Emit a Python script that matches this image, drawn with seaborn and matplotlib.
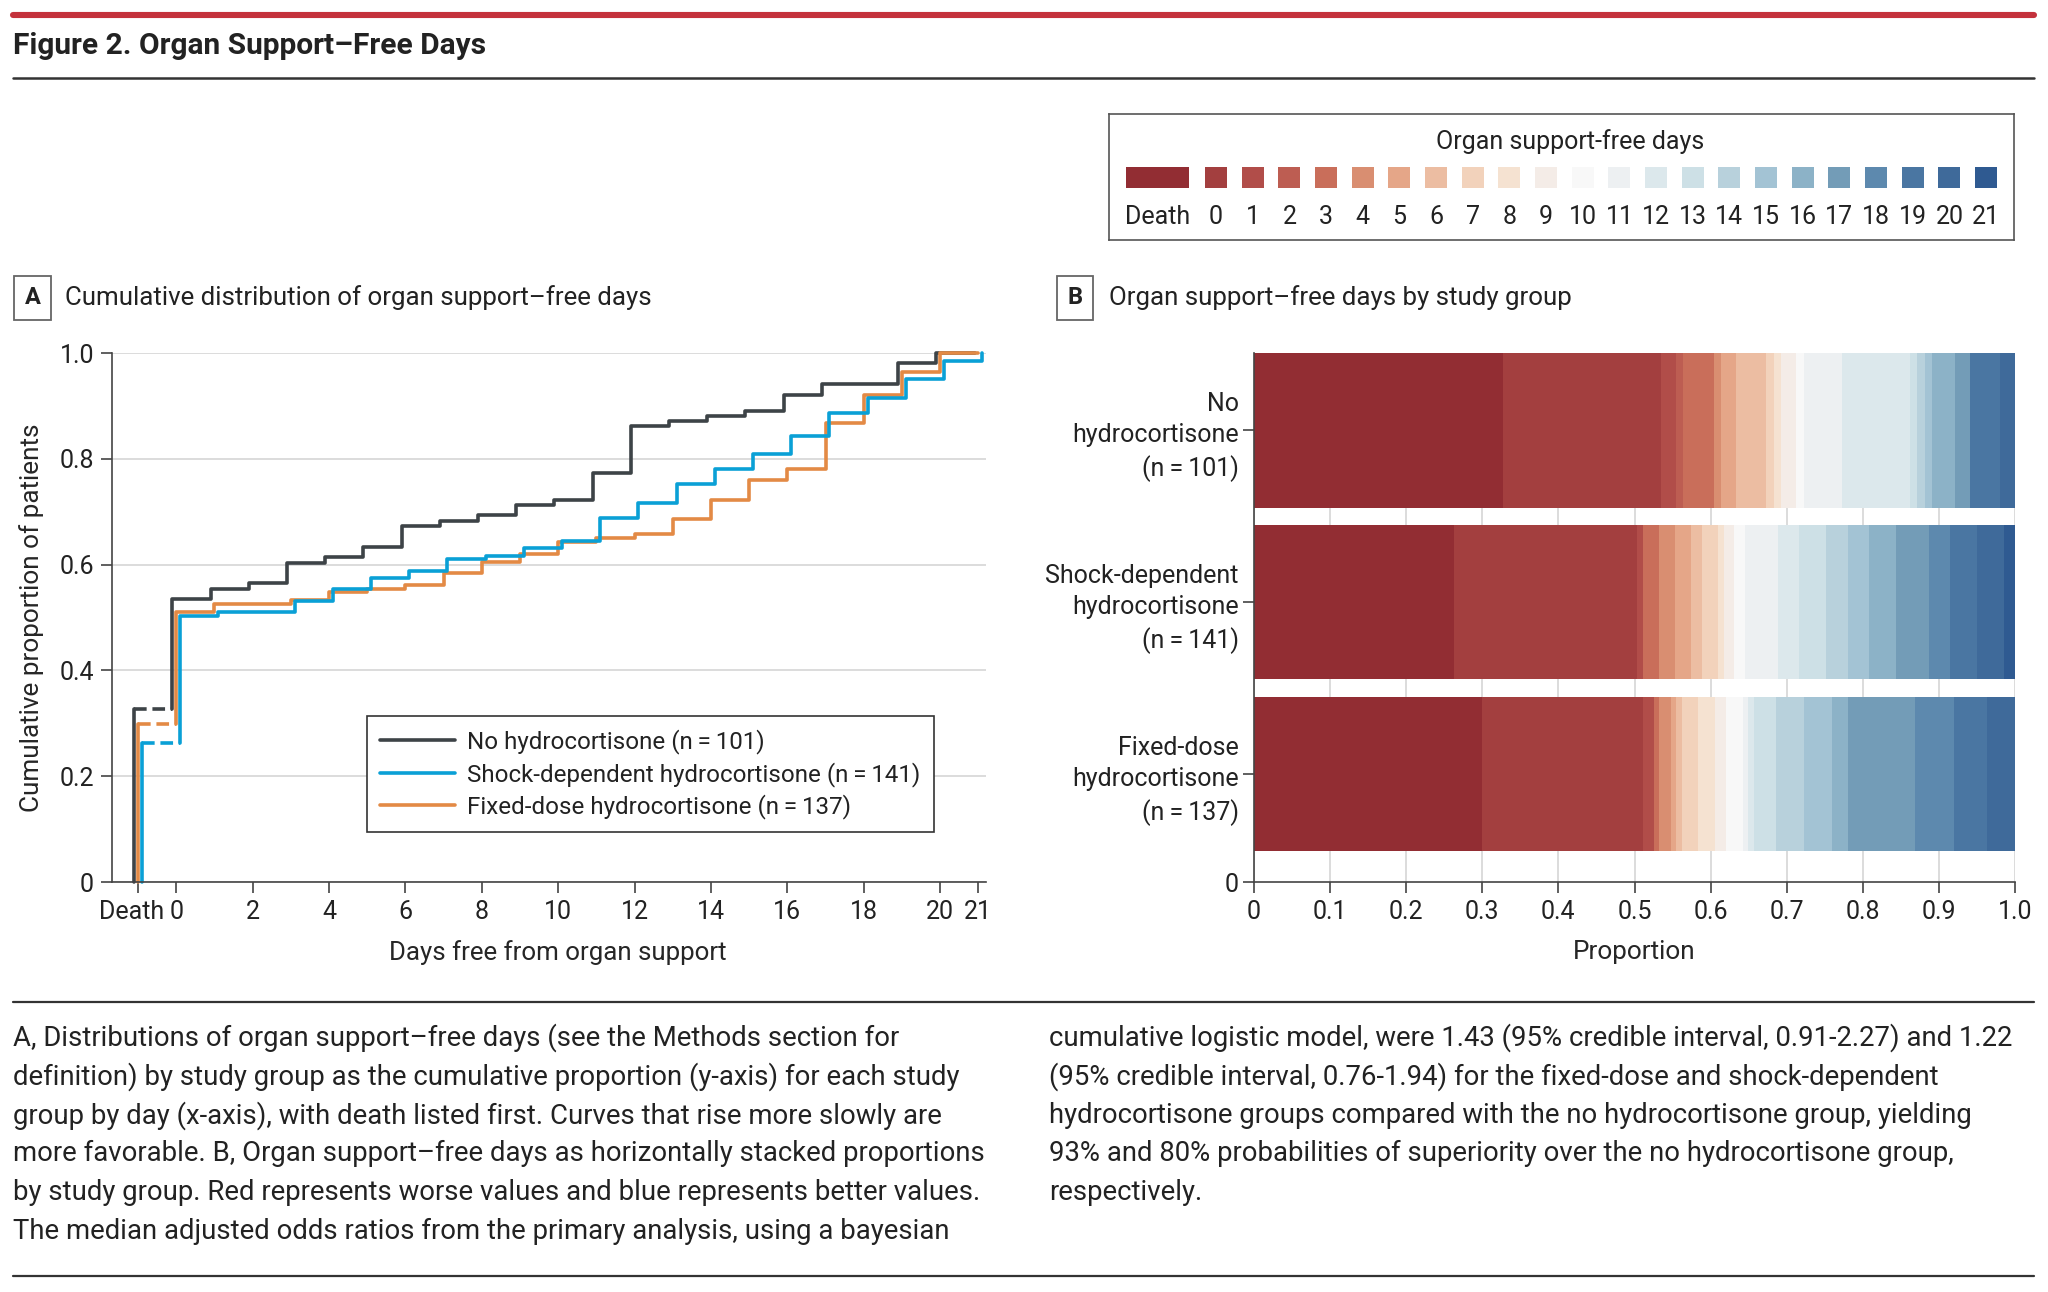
import numpy as np
import pandas as pd
import seaborn as sns
import matplotlib.pyplot as plt
from matplotlib.lines import Line2D
from matplotlib.transforms import ScaledTranslation

# ---- data ----
categories = ["Death"] + [str(d) for d in range(22)]
groups = ["No hydrocortisone", "Shock-dependent hydrocortisone", "Fixed-dose hydrocortisone"]
group_n = [101, 141, 137]
# patients per outcome category (Death, day 0 ... day 21)
counts_none = [33, 21, 2, 1, 4, 1, 2, 4, 1, 1, 2, 1, 5, 9, 1, 1, 1, 3, 2, 0, 4, 2, 0]
counts_shock = [37, 34, 1, 0, 3, 3, 3, 2, 3, 1, 2, 2, 6, 4, 5, 4, 4, 5, 6, 4, 5, 5, 2]
counts_fixed = [41, 29, 2, 0, 1, 2, 1, 1, 3, 3, 2, 3, 1, 1, 4, 5, 5, 3, 12, 7, 6, 5, 0]

bar_labels = ["No\nhydrocortisone\n(n\u2009=\u2009101)",
              "Shock-dependent\nhydrocortisone\n(n\u2009=\u2009141)",
              "Fixed-dose\nhydrocortisone\n(n\u2009=\u2009137)"]
legend_labels = ["No hydrocortisone (n\u2009=\u2009101)",
                 "Shock-dependent hydrocortisone (n\u2009=\u2009141)",
                 "Fixed-dose hydrocortisone (n\u2009=\u2009137)"]
xtick_pos = [-1] + list(range(0, 21, 2)) + [21]
xtick_labels = ["Death"] + [str(d) for d in range(0, 21, 2)] + ["21"]

line_colors = ["#3d4347", "#0aa0d6", "#e38a45"]
x_offsets = [-0.1, 0.1, 0.0]
category_colors = ["#922d33", "#a33f3f", "#b14d49", "#bd5d52", "#c96e5a", "#d98e71",
                   "#e5a688", "#ecbda2", "#f2d2bb", "#f5e2d1", "#f4ece7", "#f8f8f8",
                   "#edf0f2", "#dce8ec", "#cde0e6", "#b8d1dc", "#a3c3d4", "#8cb2c7",
                   "#739cb7", "#5d89ae", "#4a76a2", "#3f6a9a", "#2f5a91"]

caption_left = [
    "A, Distributions of organ support\u2013free days (see the Methods section for",
    "definition) by study group as the cumulative proportion (y-axis) for each study",
    "group by day (x-axis), with death listed first. Curves that rise more slowly are",
    "more favorable. B, Organ support\u2013free days as horizontally stacked proportions",
    "by study group. Red represents worse values and blue represents better values.",
    "The median adjusted odds ratios from the primary analysis, using a bayesian",
]
caption_right = [
    "cumulative logistic model, were 1.43 (95% credible interval, 0.91-2.27) and 1.22",
    "(95% credible interval, 0.76-1.94) for the fixed-dose and shock-dependent",
    "hydrocortisone groups compared with the no hydrocortisone group, yielding",
    "93% and 80% probabilities of superiority over the no hydrocortisone group,",
    "respectively.",
]

W, H = 2048, 1292


def fx(px):
    return px / W


def fy(py):
    return 1 - py / H


sns.set_style("ticks")
plt.rcParams["font.family"] = ["Roboto", "DejaVu Sans"]
plt.rcParams["text.color"] = "#222222"
plt.rcParams["axes.edgecolor"] = "#444444"
plt.rcParams["xtick.color"] = "#444444"
plt.rcParams["ytick.color"] = "#444444"
plt.rcParams["xtick.labelcolor"] = "#222222"
plt.rcParams["ytick.labelcolor"] = "#222222"

counts = [counts_none, counts_shock, counts_fixed]
cum = [np.cumsum(c) / n for c, n in zip(counts, group_n)]

fig = plt.figure(figsize=(20.48, 12.92), dpi=100)

# ---- header ----
fig.add_artist(Line2D([fx(13), fx(2034)], [fy(14.5), fy(14.5)], color="#c4323c", lw=4.4))
fig.text(fx(13), fy(46), "Figure 2. Organ Support\u2013Free Days", fontsize=21.5,
         fontweight="bold", va="center", ha="left")
fig.add_artist(Line2D([fx(13), fx(2034)], [fy(78), fy(78)], color="#333333", lw=1.8))
fig.add_artist(Line2D([fx(13), fx(2034)], [fy(1002), fy(1002)], color="#333333", lw=1.6))
fig.add_artist(Line2D([fx(13), fx(2034)], [fy(1276), fy(1276)], color="#333333", lw=1.6))

# ---- colour key ----
axK = fig.add_axes([fx(1109), fy(240), fx(2014) - fx(1109), fy(114) - fy(240)])
axK.set_xlim(-2.92, 21.76)
axK.set_ylim(240, 114)
key_x = [-1.6] + list(range(22))
key_w = [1.72] + [0.6] * 22
axK.bar(key_x, 21, bottom=167, width=key_w, color=category_colors, linewidth=0)
for x, lab in zip(key_x, categories):
    axK.text(x, 217, lab, ha="center", va="center", fontsize=18)
axK.text(9.65, 142, "Organ support-free days", ha="center", va="center", fontsize=18)
axK.set_xticks([])
axK.set_yticks([])
for s in axK.spines.values():
    s.set_visible(True)
    s.set_color("#555555")
    s.set_linewidth(1.2)

# ---- panel labels ----
box = dict(boxstyle="square,pad=0.45", fc="white", ec="#666666", lw=1.3)
fig.text(fx(32.5), fy(298), "A", fontsize=17, fontweight="bold", ha="center", va="center", bbox=box)
fig.text(fx(65), fy(298), "Cumulative distribution of organ support\u2013free days",
         fontsize=18.6, ha="left", va="center")
fig.text(fx(1075), fy(298), "B", fontsize=17, fontweight="bold", ha="center", va="center", bbox=box)
fig.text(fx(1109), fy(298), "Organ support\u2013free days by study group",
         fontsize=18.6, ha="left", va="center")

# ---- panel A: cumulative step curves ----
axA = fig.add_axes([fx(112), fy(882), fx(986) - fx(112), fy(353) - fy(882)])
for i in [0, 2, 1]:
    off = x_offsets[i]
    p = cum[i]
    kw = dict(color=line_colors[i], lw=2.6, ax=axA, estimator=None, sort=False,
              clip_on=False, legend=False)
    sns.lineplot(x=[-1 + off, -1 + off], y=[0, p[0]], **kw)
    sns.lineplot(x=[-1 + off, off], y=[p[0], p[0]], linestyle=(0, (3.5, 1.6)), **kw)
    xs = [off] + [d + off for d in range(22)]
    ys = [p[0]] + list(p[1:])
    sns.lineplot(x=xs, y=ys, drawstyle="steps-post", **kw)

axA.set_xlim(-1.68, 21.2)
axA.set_ylim(0, 1)
axA.set_xticks(xtick_pos)
axA.set_xticklabels(xtick_labels)
axA.set_yticks([0, 0.2, 0.4, 0.6, 0.8, 1.0])
axA.set_yticklabels(["0", "0.2", "0.4", "0.6", "0.8", "1.0"])
axA.yaxis.grid(True, color="#d6d6d6", lw=1.2)
axA.set_axisbelow(True)
axA.tick_params(labelsize=18, length=8, width=1.2, pad=5)
death_lab = axA.get_xticklabels()[0]
death_lab.set_transform(death_lab.get_transform() + ScaledTranslation(-0.06, 0, fig.dpi_scale_trans))
sns.despine(ax=axA)
for s in ["left", "bottom"]:
    axA.spines[s].set_linewidth(1.2)
axA.set_xlabel("Days free from organ support", fontsize=18.6)
axA.set_ylabel("Cumulative proportion of patients", fontsize=18.8)
axA.xaxis.set_label_coords(0.51, -0.11)
axA.yaxis.set_label_coords(-0.078, 0.5)

handles = [Line2D([], [], color=c, lw=2.6) for c in line_colors]
leg = axA.legend(handles, legend_labels, loc="lower left", bbox_to_anchor=(0.292, 0.0945),
                 borderaxespad=0, fontsize=17.4, frameon=True, fancybox=False,
                 handlelength=3.1, handletextpad=0.5, labelspacing=0.3,
                 borderpad=0.55, framealpha=1)
leg.get_frame().set_edgecolor("#333333")
leg.get_frame().set_linewidth(1.2)

# ---- panel B: stacked proportions ----
axB = fig.add_axes([fx(1254), fy(882), fx(2015) - fx(1254), fy(353) - fy(882)])
rows = []
for g, c_arr in zip(groups, cum):
    for k, cat in enumerate(categories):
        rows.append({"group": g, "k": k, "cum": c_arr[k]})
df = pd.DataFrame(rows)
for k in range(len(categories) - 1, -1, -1):
    sub = df[df["k"] == k]
    sns.barplot(data=sub, x="cum", y="group", order=groups, orient="h", color=category_colors[k],
                saturation=1, width=0.9, errorbar=None, linewidth=0, ax=axB)

axB.set_xlim(0, 1.0)
axB.set_ylim(2.63, -0.45)
axB.set_xticks(np.arange(0, 1.01, 0.1))
axB.set_xticklabels(["0"] + ["%.1f" % v for v in np.arange(0.1, 1.01, 0.1)])
axB.set_yticks([0, 1, 2, 2.63])
axB.set_yticklabels(bar_labels + ["0"])
for t in axB.get_yticklabels():
    t.set_linespacing(1.38)
axB.xaxis.grid(True, color="#d6d6d6", lw=1.2)
axB.yaxis.grid(False)
axB.set_axisbelow(True)
axB.tick_params(labelsize=18, length=8, width=1.2, pad=5)
axB.tick_params(axis="y", pad=3)
sns.despine(ax=axB)
for s in ["left", "bottom"]:
    axB.spines[s].set_linewidth(1.2)
axB.set_xlabel("Proportion", fontsize=18.8)
axB.set_ylabel("")
axB.xaxis.set_label_coords(0.5, -0.11)

# ---- caption ----
for j, line in enumerate(caption_left):
    fig.text(fx(13), fy(1038 + 38.6 * j), line, fontsize=19.8, ha="left", va="center")
for j, line in enumerate(caption_right):
    fig.text(fx(1049), fy(1038 + 38.6 * j), line, fontsize=19.8, ha="left", va="center")

fig.savefig("out.png", dpi=100)
